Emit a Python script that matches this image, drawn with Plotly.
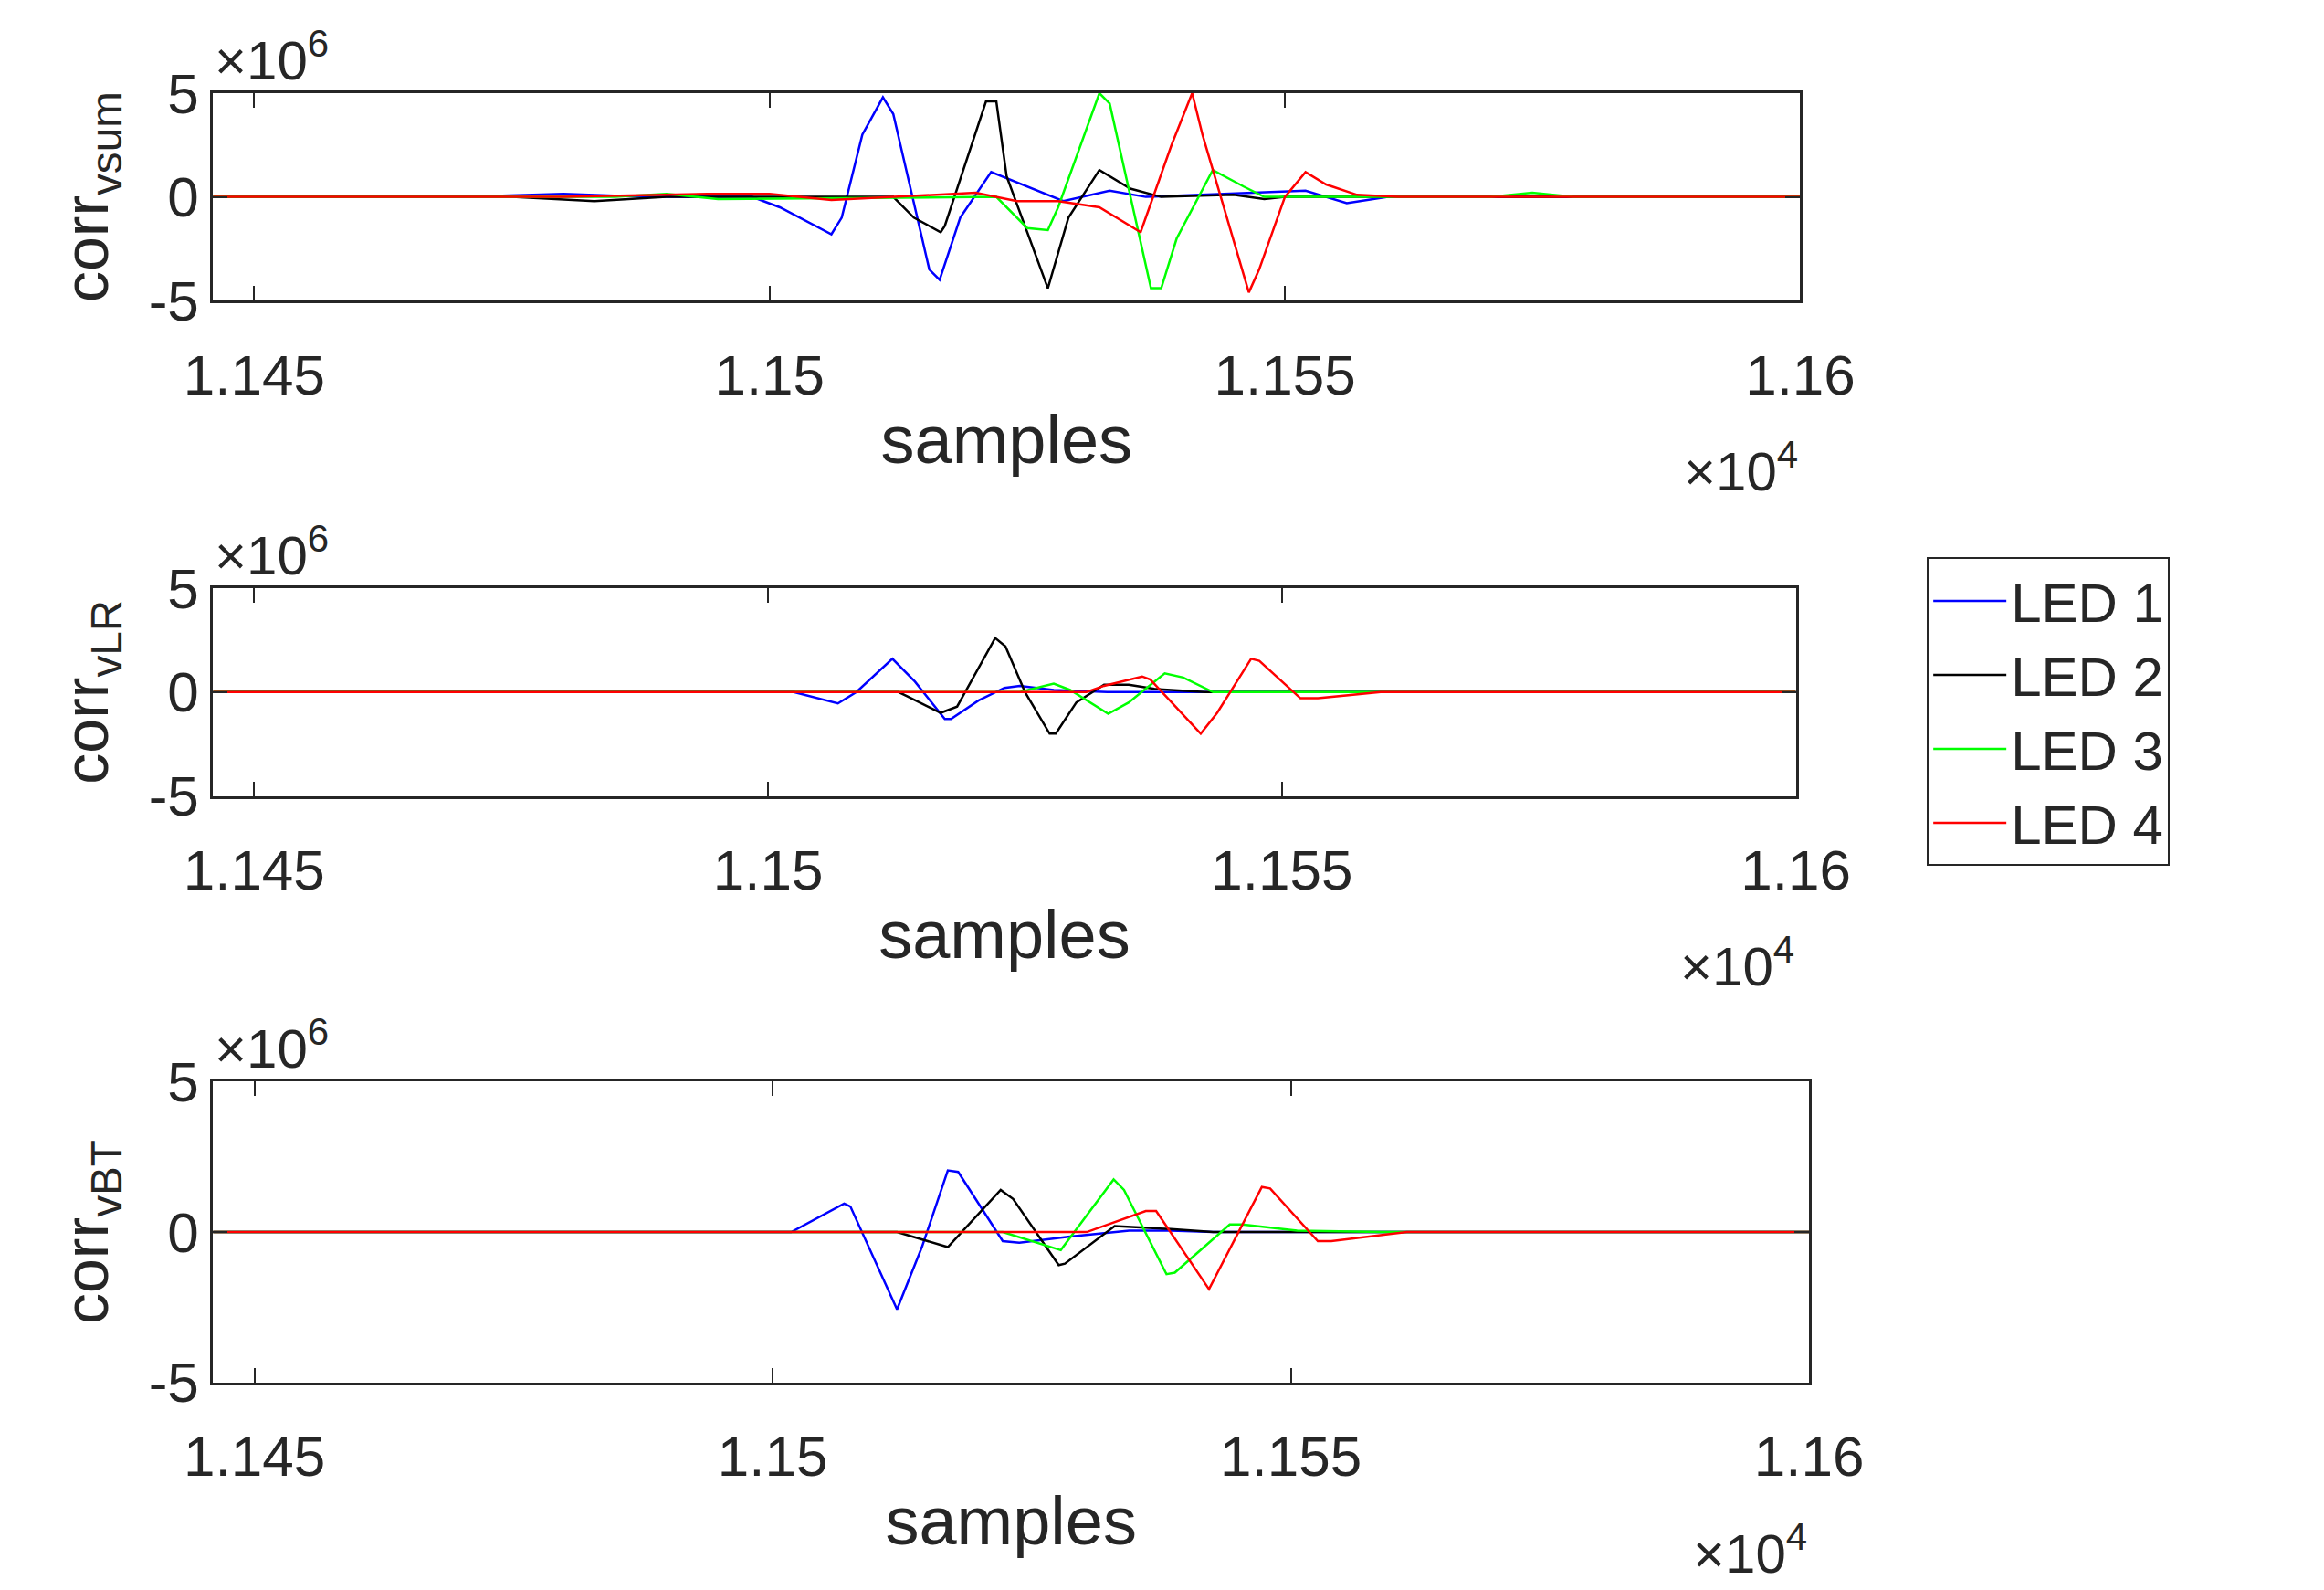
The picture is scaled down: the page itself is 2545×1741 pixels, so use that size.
import plotly.graph_objs as go

# LED correlation traces (samples, value in 1e6)
led_names = ['LED 1', 'LED 2', 'LED 3', 'LED 4']
led_colors = ['#0000ff', '#000000', '#00ff00', '#ff0000']

# corr_vsum
vsum_x = [
    [11446, 11470, 11480, 11488, 11498.3, 11501, 11506, 11507, 11509, 11511, 11512, 11515.5, 11516.5, 11518.5, 11521.5, 11526, 11528.5, 11533, 11536.5, 11552, 11556, 11560, 11600],
    [11446, 11475, 11483, 11490, 11512, 11514, 11516.6, 11517, 11521, 11522, 11523, 11527, 11529, 11532, 11535, 11538, 11545, 11548, 11550, 11600],
    [11446, 11485, 11490, 11495, 11522, 11525, 11527, 11528, 11532, 11533, 11537, 11538, 11539.5, 11543, 11546, 11548, 11570, 11574, 11578, 11600],
    [11446, 11480, 11494, 11500, 11506, 11516, 11520, 11524, 11528, 11532, 11536, 11539, 11541, 11542, 11546.5, 11547.5, 11550, 11552, 11554, 11557, 11561, 11600],
]
vsum_y = [
    [0, 0, 0.15, 0, 0, -0.5, -1.8, -1.0, 3.0, 4.8, 4.0, -3.5, -4.0, -1.0, 1.2, 0.3, -0.2, 0.3, 0, 0.3, -0.3, 0, 0],
    [0, 0, -0.2, 0, 0, -1.0, -1.7, -1.4, 4.6, 4.6, 1.0, -4.4, -1.0, 1.3, 0.4, 0, 0.1, -0.1, 0, 0],
    [0, 0, 0.15, -0.1, 0, -1.5, -1.6, -0.5, 5.0, 4.5, -4.4, -4.4, -2.0, 1.3, 0.5, 0, 0, 0.2, 0, 0],
    [0, 0, 0.15, 0.15, -0.15, 0.1, 0.2, -0.2, -0.2, -0.5, -1.7, 2.5, 5.0, 3.0, -4.6, -3.5, 0, 1.2, 0.6, 0.1, 0, 0],
]

# corr_vLR
vlr_x = [
    [11446, 11502.5, 11506.8, 11508.6, 11512.1, 11514.3, 11517.2, 11517.8, 11520.5, 11523, 11524.5, 11527.8, 11533, 11600],
    [11446, 11512.7, 11516.8, 11518.4, 11522.1, 11523.1, 11525, 11527.4, 11528, 11530, 11532.7, 11535.1, 11537.6, 11542.5, 11600],
    [11446, 11524.5, 11527.8, 11529.4, 11533.1, 11535.1, 11538.6, 11540.4, 11543.3, 11600],
    [11446, 11531, 11532.7, 11536.4, 11537.2, 11542.1, 11543.7, 11547, 11547.8, 11551.8, 11553.5, 11559.6, 11600],
]
vlr_y = [
    [0, 0, -0.55, 0, 1.6, 0.5, -1.3, -1.3, -0.4, 0.2, 0.3, 0.1, 0, 0],
    [0, 0, -1.0, -0.7, 2.6, 2.2, 0, -2.0, -2.0, -0.5, 0.35, 0.35, 0.15, 0, 0],
    [0, 0, 0.4, 0.1, -1.05, -0.5, 0.9, 0.7, 0, 0],
    [0, 0, 0.3, 0.75, 0.6, -2.0, -1.0, 1.6, 1.5, -0.3, -0.3, 0, 0],
]

# corr_vBT
vbt_x = [
    [11446, 11501.8, 11506.9, 11507.5, 11512, 11514.4, 11516.9, 11517.9, 11522.2, 11523.8, 11528.7, 11534.4, 11538.4, 11542.5, 11600],
    [11446, 11512, 11516.9, 11522, 11523.2, 11527.6, 11528.2, 11533, 11538.4, 11542.5, 11600],
    [11446, 11522.2, 11527.8, 11532.9, 11533.9, 11538, 11538.8, 11544.1, 11545.3, 11550.6, 11558.7, 11600],
    [11446, 11530.3, 11536, 11537, 11542.1, 11547.2, 11548, 11552.6, 11553.9, 11558.7, 11561.2, 11600],
]
vbt_y = [
    [0, 0, 0.95, 0.85, -2.57, -0.5, 2.05, 2.0, -0.3, -0.35, -0.15, 0.05, 0.05, 0, 0],
    [0, 0, -0.5, 1.4, 1.1, -1.1, -1.05, 0.2, 0.1, 0, 0],
    [0, 0, -0.6, 1.75, 1.4, -1.4, -1.35, 0.25, 0.25, 0.05, 0, 0],
    [0, 0, 0.7, 0.7, -1.9, 1.5, 1.45, -0.3, -0.3, -0.1, 0, 0],
]

panels = [
    (vsum_x, vsum_y, 'corr<sub>vsum</sub>', [0.0885, 0.7715], [0.8155, 0.946]),
    (vlr_x, vlr_y, 'corr<sub>vLR</sub>', [0.0885, 0.7696], [0.504, 0.6347]),
    (vbt_x, vbt_y, 'corr<sub>vBT</sub>', [0.0885, 0.7753], [0.1351, 0.3243]),
]

FONT = 'Liberation Sans'
fig = go.Figure()
layout = dict(width=2545, height=1741, margin=dict(l=0, r=0, t=0, b=0),
              plot_bgcolor='white', paper_bgcolor='white',
              font=dict(family=FONT, size=62, color='#262626'))
annotations = []

for i, (xs, ys, ytitle, xdom, ydom) in enumerate(panels):
    n = '' if i == 0 else str(i + 1)
    for k in range(4):
        fig.add_trace(go.Scatter(
            x=xs[k], y=ys[k], mode='lines', name=led_names[k],
            line=dict(color=led_colors[k], width=2.5),
            xaxis='x' + n, yaxis='y' + n, showlegend=(i == 1)))
    layout['xaxis' + n] = dict(
        domain=xdom, anchor='y' + n, range=[11446, 11600],
        tickvals=[11450, 11500, 11550, 11600],
        ticktext=['1.145', '1.15', '1.155', '1.16'],
        ticks='inside', ticklen=16, tickcolor='#262626', tickwidth=2,
        showline=True, linecolor='#262626', linewidth=3, mirror='ticks',
        showgrid=False, zeroline=False, ticklabelstandoff=25, automargin=False,
        title=dict(text='samples', standoff=12))
    layout['yaxis' + n] = dict(
        domain=ydom, anchor='x' + n, range=[-5, 5],
        tickvals=[-5, 0, 5], ticktext=['-5', '0', '5'],
        ticks='inside', ticklen=16, tickcolor='#262626', tickwidth=2,
        showline=True, linecolor='#262626', linewidth=3, mirror='ticks',
        showgrid=False, zeroline=False, automargin=False,
        title=dict(text=ytitle, standoff=22, font=dict(size=68)))
    annotations.append(dict(text='\u00d710<sup>6</sup>', xref='paper', yref='paper',
                            x=xdom[0], y=ydom[1], xanchor='left', yanchor='bottom',
                            showarrow=False, font=dict(size=60)))
    annotations.append(dict(text='\u00d710<sup>4</sup>', xref='paper', yref='paper',
                            x=xdom[1], y=ydom[0] - 0.082, xanchor='right', yanchor='top',
                            showarrow=False, font=dict(size=60)))

layout['annotations'] = annotations
layout['legend'] = dict(x=0.826, y=0.654, xanchor='left', yanchor='top',
                        bordercolor='#262626', borderwidth=2, bgcolor='white',
                        font=dict(size=60), itemwidth=80, tracegroupgap=0)
fig.update_layout(**layout)
fig.write_html("out.html")
